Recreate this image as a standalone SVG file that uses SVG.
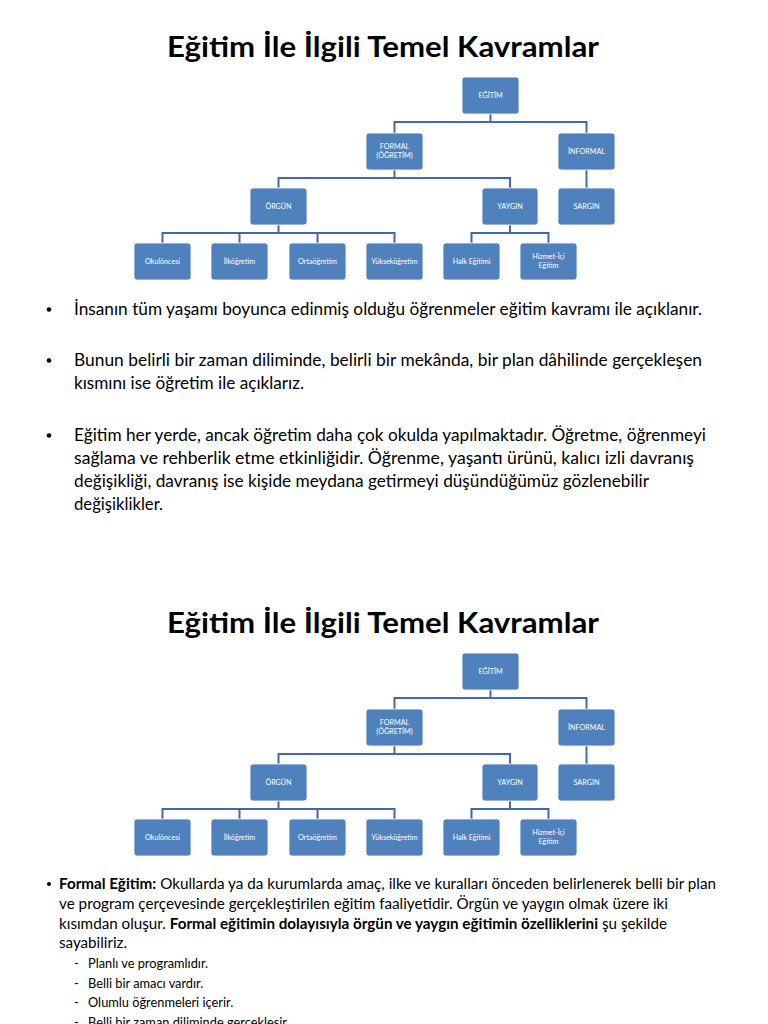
<svg xmlns="http://www.w3.org/2000/svg" width="768" height="1024" viewBox="0 0 768 1024">
<style>
.title{font-family:Lato,"Liberation Sans",sans-serif;font-weight:bold;font-size:28px;fill:#000;text-anchor:middle}
.box{fill:#4F81BD;stroke:#ffffff;stroke-width:0.8}
.lbl{font-family:Lato,"Liberation Sans",sans-serif;font-size:7.2px;fill:#ffffff;text-anchor:middle}
.conn{fill:none;stroke:#3E6AA8;stroke-width:2}
.t1{font-family:Lato,"Liberation Sans",sans-serif;font-size:17px;fill:#000}
.t2{font-family:Lato,"Liberation Sans",sans-serif;font-size:14.5px;fill:#000}
.t3{font-family:Lato,"Liberation Sans",sans-serif;font-size:12.8px;fill:#000}
.b{font-weight:bold}
</style>
<rect width="768" height="1024" fill="#ffffff"/>

<text class="title" x="383" y="57" textLength="432" lengthAdjust="spacingAndGlyphs">Eğitim İle İlgili Temel Kavramlar</text>

<g id="connectors1">
<path class="conn" d="M490.5 114V122M394.5 133V122H586.5V133"/>
<path class="conn" d="M394.5 170V178M278.5 188V178H510V188"/>
<path class="conn" d="M586.5 170V188"/>
<path class="conn" d="M278.5 225V233M162.5 243V233H394.5V243M239.5 233V243M317.5 233V243"/>
<path class="conn" d="M510 225V233M471.5 243V233H548.5V243"/>
</g>
<g id="n1-egitim"><rect class="box" x="462" y="77" width="57" height="37" rx="3"/><text class="lbl" x="490.5" y="98">EĞİTİM</text></g>
<g id="n1-formal"><rect class="box" x="366" y="133" width="57" height="37" rx="3"/><text class="lbl" x="394.5" y="149">FORMAL</text><text class="lbl" x="394.5" y="158">(ÖĞRETİM)</text></g>
<g id="n1-informal"><rect class="box" x="558" y="133" width="57" height="37" rx="3"/><text class="lbl" x="586.5" y="154">İNFORMAL</text></g>
<g id="n1-orgun"><rect class="box" x="250" y="188" width="57" height="37" rx="3"/><text class="lbl" x="278.5" y="209">ÖRGÜN</text></g>
<g id="n1-yaygin"><rect class="box" x="482" y="188" width="56" height="37" rx="3"/><text class="lbl" x="510" y="209">YAYGIN</text></g>
<g id="n1-sargin"><rect class="box" x="558" y="188" width="57" height="37" rx="3"/><text class="lbl" x="586.5" y="209">SARGIN</text></g>
<g id="n1-okuloncesi"><rect class="box" x="134" y="243" width="57" height="37" rx="3"/><text class="lbl" x="162.5" y="264">Okulöncesi</text></g>
<g id="n1-ilkogretim"><rect class="box" x="211" y="243" width="57" height="37" rx="3"/><text class="lbl" x="239.5" y="264">İlköğretim</text></g>
<g id="n1-ortaogretim"><rect class="box" x="289" y="243" width="57" height="37" rx="3"/><text class="lbl" x="317.5" y="264">Ortaöğretim</text></g>
<g id="n1-yuksekogretim"><rect class="box" x="366" y="243" width="57" height="37" rx="3"/><text class="lbl" x="394.5" y="264">Yükseköğretim</text></g>
<g id="n1-halk"><rect class="box" x="443" y="243" width="57" height="37" rx="3"/><text class="lbl" x="471.5" y="264">Halk Eğitimi</text></g>
<g id="n1-hizmet"><rect class="box" x="520" y="243" width="57" height="37" rx="3"/><text class="lbl" x="548.5" y="259">Hizmet-İçi</text><text class="lbl" x="548.5" y="268">Eğitim</text></g>

<g id="text1">
<circle cx="49" cy="309.5" r="2.3"/>
<text class="t1" x="74" y="315" textLength="628" lengthAdjust="spacingAndGlyphs">İnsanın tüm yaşamı boyunca edinmiş olduğu öğrenmeler eğitim kavramı ile açıklanır.</text>
<circle cx="49" cy="360.5" r="2.3"/>
<text class="t1" x="74" y="366" textLength="628" lengthAdjust="spacingAndGlyphs">Bunun belirli bir zaman diliminde, belirli bir mekânda, bir plan dâhilinde gerçekleşen</text>
<text class="t1" x="74" y="389" textLength="230" lengthAdjust="spacingAndGlyphs">kısmını ise öğretim ile açıklarız.</text>
<circle cx="49" cy="435.5" r="2.3"/>
<text class="t1" x="74" y="441" textLength="632" lengthAdjust="spacingAndGlyphs">Eğitim her yerde, ancak öğretim daha çok okulda yapılmaktadır. Öğretme, öğrenmeyi</text>
<text class="t1" x="74" y="464" textLength="620" lengthAdjust="spacingAndGlyphs">sağlama ve rehberlik etme etkinliğidir. Öğrenme, yaşantı ürünü, kalıcı izli davranış</text>
<text class="t1" x="74" y="487" textLength="575" lengthAdjust="spacingAndGlyphs">değişikliği, davranış ise kişide meydana getirmeyi düşündüğümüz gözlenebilir</text>
<text class="t1" x="74" y="510" textLength="89" lengthAdjust="spacingAndGlyphs">değişiklikler.</text>
</g>

<text class="title" x="383" y="633" textLength="432" lengthAdjust="spacingAndGlyphs">Eğitim İle İlgili Temel Kavramlar</text>

<g id="connectors2" transform="translate(0,576)">
<path class="conn" d="M490.5 114V122M394.5 133V122H586.5V133"/>
<path class="conn" d="M394.5 170V178M278.5 188V178H510V188"/>
<path class="conn" d="M586.5 170V188"/>
<path class="conn" d="M278.5 225V233M162.5 243V233H394.5V243M239.5 233V243M317.5 233V243"/>
<path class="conn" d="M510 225V233M471.5 243V233H548.5V243"/>
</g>
<g transform="translate(0,576)">
<g id="n2-egitim"><rect class="box" x="462" y="77" width="57" height="37" rx="3"/><text class="lbl" x="490.5" y="98">EĞİTİM</text></g>
<g id="n2-formal"><rect class="box" x="366" y="133" width="57" height="37" rx="3"/><text class="lbl" x="394.5" y="149">FORMAL</text><text class="lbl" x="394.5" y="158">(ÖĞRETİM)</text></g>
<g id="n2-informal"><rect class="box" x="558" y="133" width="57" height="37" rx="3"/><text class="lbl" x="586.5" y="154">İNFORMAL</text></g>
<g id="n2-orgun"><rect class="box" x="250" y="188" width="57" height="37" rx="3"/><text class="lbl" x="278.5" y="209">ÖRGÜN</text></g>
<g id="n2-yaygin"><rect class="box" x="482" y="188" width="56" height="37" rx="3"/><text class="lbl" x="510" y="209">YAYGIN</text></g>
<g id="n2-sargin"><rect class="box" x="558" y="188" width="57" height="37" rx="3"/><text class="lbl" x="586.5" y="209">SARGIN</text></g>
<g id="n2-okuloncesi"><rect class="box" x="134" y="243" width="57" height="37" rx="3"/><text class="lbl" x="162.5" y="264">Okulöncesi</text></g>
<g id="n2-ilkogretim"><rect class="box" x="211" y="243" width="57" height="37" rx="3"/><text class="lbl" x="239.5" y="264">İlköğretim</text></g>
<g id="n2-ortaogretim"><rect class="box" x="289" y="243" width="57" height="37" rx="3"/><text class="lbl" x="317.5" y="264">Ortaöğretim</text></g>
<g id="n2-yuksekogretim"><rect class="box" x="366" y="243" width="57" height="37" rx="3"/><text class="lbl" x="394.5" y="264">Yükseköğretim</text></g>
<g id="n2-halk"><rect class="box" x="443" y="243" width="57" height="37" rx="3"/><text class="lbl" x="471.5" y="264">Halk Eğitimi</text></g>
<g id="n2-hizmet"><rect class="box" x="520" y="243" width="57" height="37" rx="3"/><text class="lbl" x="548.5" y="259">Hizmet-İçi</text><text class="lbl" x="548.5" y="268">Eğitim</text></g>
</g>

<g id="text2">
<circle cx="49" cy="884" r="2"/>
<text class="t2" x="59" y="889" textLength="657" lengthAdjust="spacingAndGlyphs"><tspan class="b">Formal Eğitim:</tspan> Okullarda ya da kurumlarda amaç, ilke ve kuralları önceden belirlenerek belli bir plan</text>
<text class="t2" x="59" y="909" textLength="609" lengthAdjust="spacingAndGlyphs">ve program çerçevesinde gerçekleştirilen eğitim faaliyetidir. Örgün ve yaygın olmak üzere iki</text>
<text class="t2" x="59" y="929" textLength="608" lengthAdjust="spacingAndGlyphs">kısımdan oluşur. <tspan class="b">Formal eğitimin dolayısıyla örgün ve yaygın eğitimin özelliklerini</tspan> şu şekilde</text>
<text class="t2" x="59" y="948" textLength="68" lengthAdjust="spacingAndGlyphs">sayabiliriz.</text>
<text class="t3" x="74" y="968">-</text>
<text class="t3" x="88" y="968">Planlı ve programlıdır.</text>
<text class="t3" x="74" y="988">-</text>
<text class="t3" x="88" y="988">Belli bir amacı vardır.</text>
<text class="t3" x="74" y="1007">-</text>
<text class="t3" x="88" y="1007">Olumlu öğrenmeleri içerir.</text>
<text class="t3" x="74" y="1027">-</text>
<text class="t3" x="88" y="1027">Belli bir zaman diliminde gerçekleşir.</text>
</g>
</svg>
